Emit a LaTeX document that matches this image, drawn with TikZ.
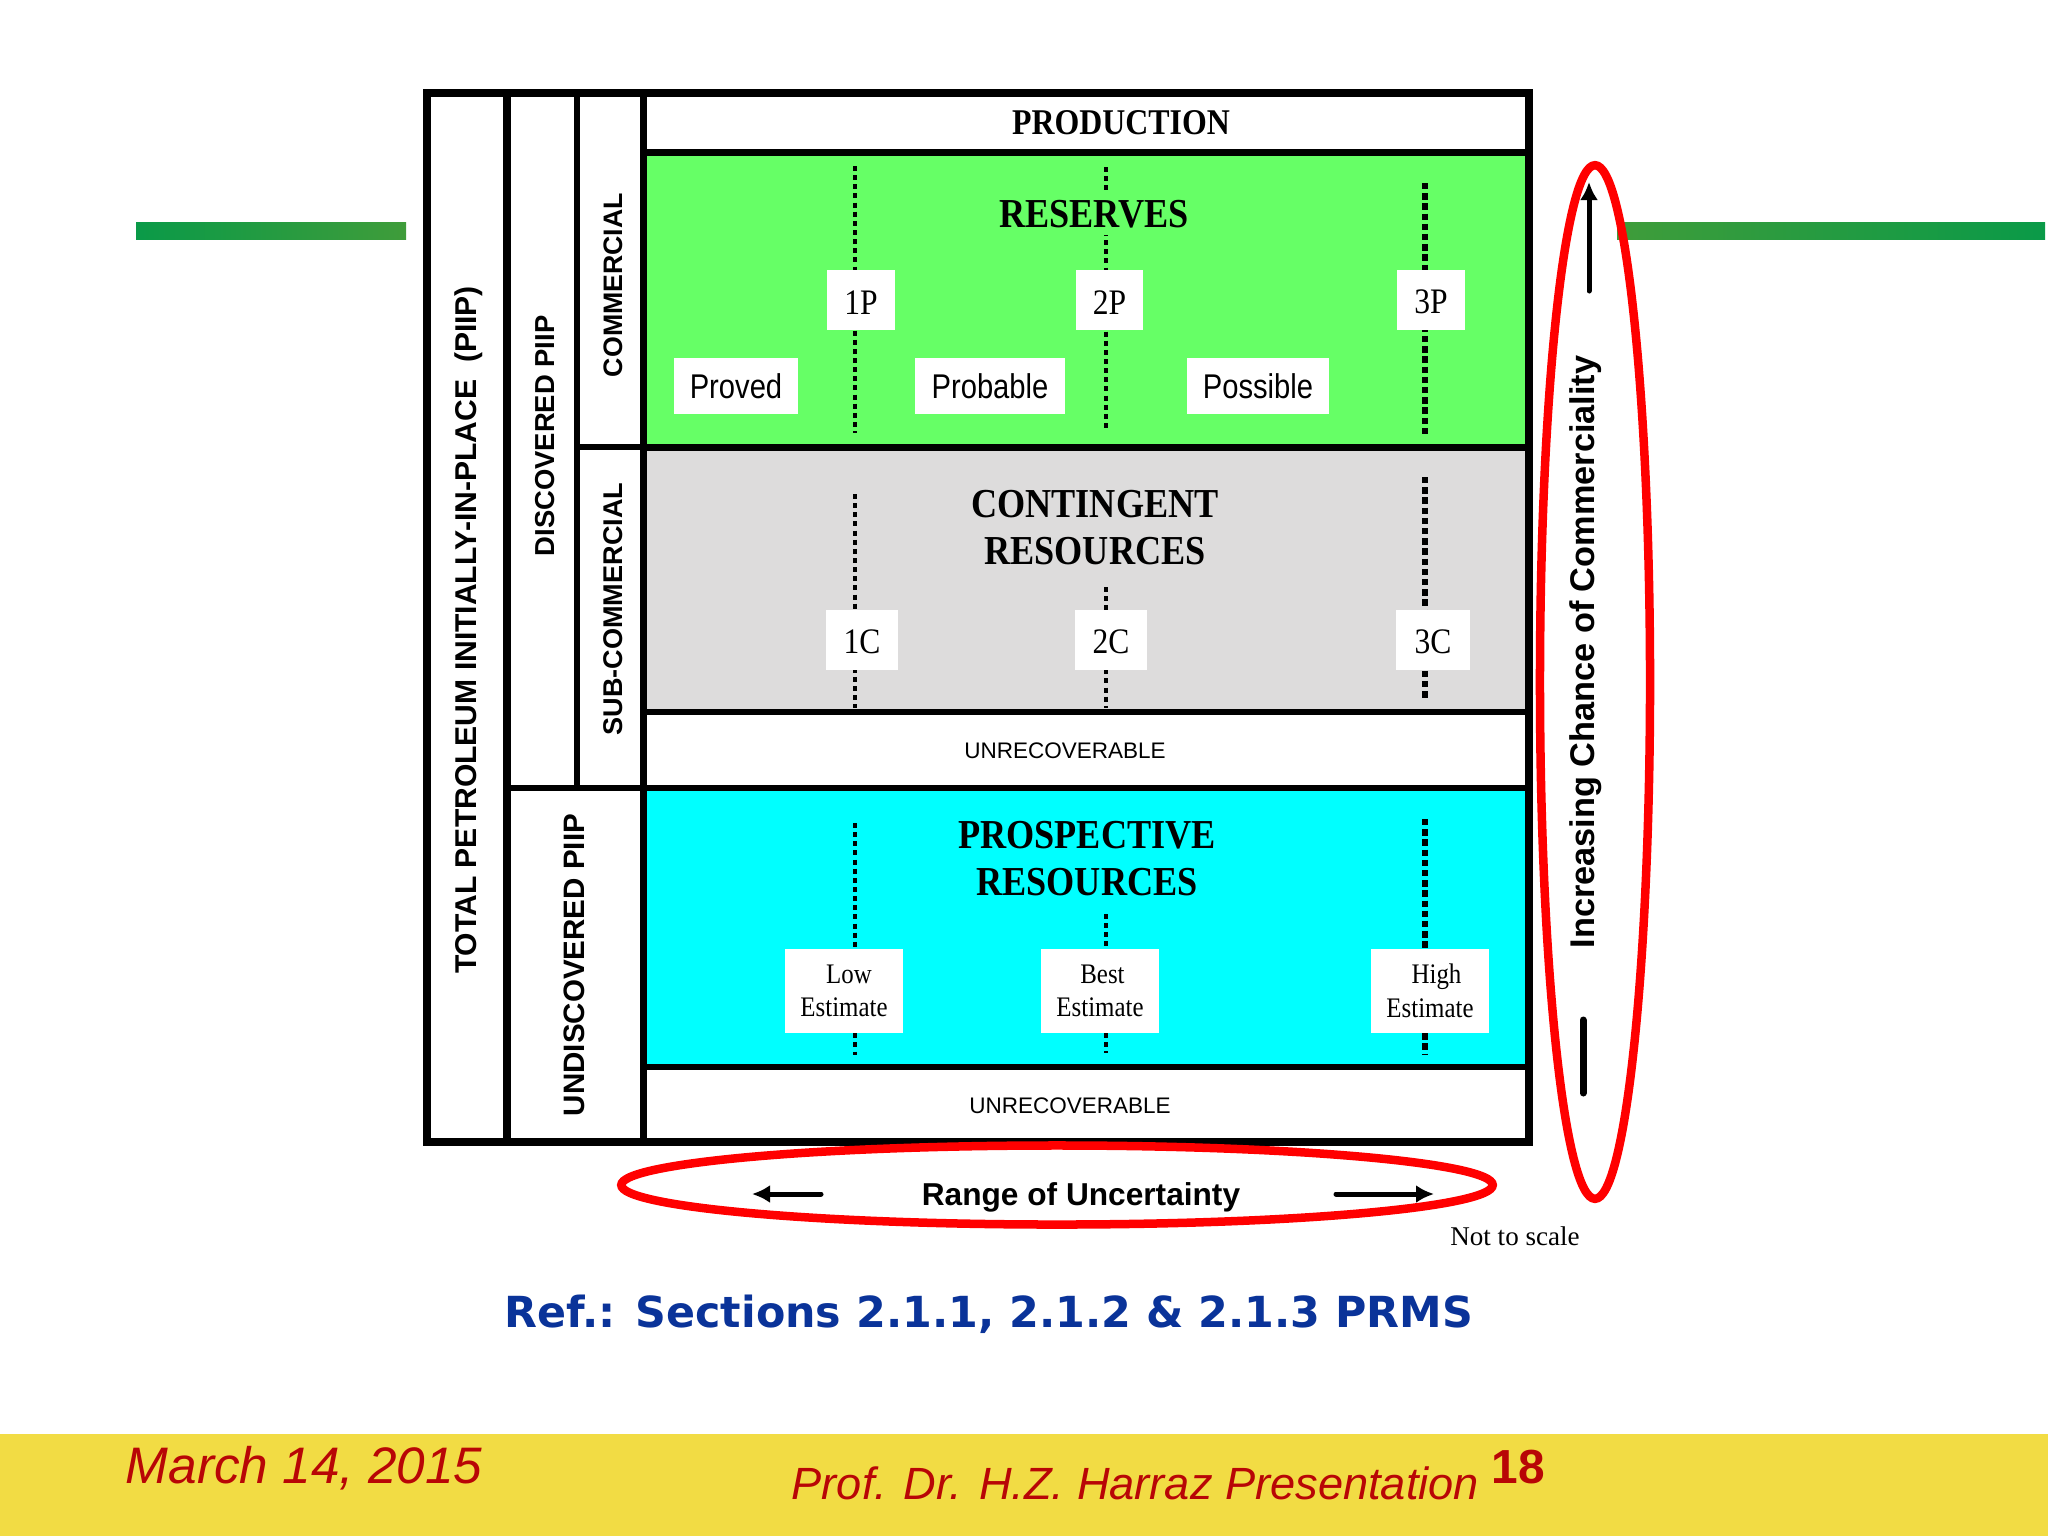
\documentclass[tikz,border=0pt]{standalone}
\usepackage{xcolor}
\usepackage{fontspec}
\usepackage{tikz}
\usetikzlibrary{shapes.geometric,arrows.meta}
\setmainfont{Liberation Serif}
\setsansfont{Liberation Sans}
\definecolor{resgreen}{HTML}{66FF66}
\definecolor{congrey}{HTML}{DDDCDC}
\definecolor{procyan}{HTML}{00FFFF}
\definecolor{footyellow}{HTML}{F2DC44}
\definecolor{footred}{HTML}{B80606}
\definecolor{refblue}{HTML}{0A3399}
\definecolor{barleft}{HTML}{0A9A48}
\definecolor{barright}{HTML}{3F9C3A}
\newfontfamily\reffont{DejaVu Sans}
\newfontfamily\tallserif[FakeStretch=0.88]{Liberation Serif}
\newfontfamily\tallsans[FakeStretch=0.85]{Liberation Sans}
\tikzset{
  cell/.style={draw=black, line width=0.65mm, inner sep=0pt},
  colcell/.style={draw=black, line width=0.55mm, inner sep=0pt},
  outercell/.style={draw=black, line width=0.8mm, inner sep=0pt},
  sidelabel/.style={font=\sffamily\bfseries\fontsize{8.55}{10}\selectfont, rotate=90, inner sep=0pt},
  bigname/.style={font=\tallserif\bfseries\fontsize{11.7}{13.4}\selectfont, align=center, inner sep=2pt},
  tag/.style={fill=white, inner sep=0pt, text height=8pt, font=\tallserif\fontsize{10.2}{10}\selectfont},
  sanstag/.style={fill=white, inner sep=0pt, font=\tallsans\fontsize{9.76}{10}\selectfont},
  esttag/.style={fill=white, inner sep=0pt, align=center, font=\tallserif\fontsize{8.05}{9.5}\selectfont, minimum width=1.18cm, minimum height=.83cm},
  unrec/.style={font=\sffamily\fontsize{6.4}{8}\selectfont, inner sep=0pt},
  dots/.style={line width=1.4pt, dash pattern=on 1.4pt off 1.2pt},
  fatdots/.style={line width=1.7pt, dash pattern=on 1.8pt off 1.1pt},
  redring/.style={draw=red, line width=0.85mm, ellipse, inner sep=0pt},
  uparrow/.style={line width=0.5mm, line cap=round, -{Latex[length=1.8mm,width=1.8mm]}},
  foot/.style={font=\sffamily\itshape, text=footred, anchor=base west, inner sep=0pt}
}
\begin{document}
\begin{tikzpicture}[x=0.01cm, y=-0.01cm]
  \useasboundingbox (0,0) rectangle (2048,1536);

  % Green bars
  \fill[left color=barleft, right color=barright] (136,222) rectangle (406,239);
  \fill[left color=barright, right color=barleft] (1617,222) rectangle (2045,239);

  % Footer
  \fill[footyellow] (0,1434) rectangle (2048,1536);

  % Coloured cells
  \node[cell, fill=white, minimum width=8.85cm, minimum height=.60cm] (production) at (1086.5,123) {};
  \node[cell, fill=resgreen, minimum width=8.85cm, minimum height=2.95cm] (reservesbox) at (1086.5,300) {};
  \node[cell, fill=congrey, minimum width=8.85cm, minimum height=2.645cm] (contingentbox) at (1086.5,580) {};
  \node[cell, fill=white, minimum width=8.85cm, minimum height=.76cm] (unrecA) at (1086.5,750) {};
  \node[cell, fill=procyan, minimum width=8.85cm, minimum height=2.79cm] (prospectivebox) at (1086.5,927.5) {};
  \node[cell, fill=white, minimum width=8.85cm, minimum height=.75cm] (unrecB) at (1086.5,1104.5) {};

  % Left columns
  \node[colcell, minimum width=.695cm, minimum height=6.95cm] (discol) at (542,440.5) {};
  \node[colcell, minimum width=.67cm, minimum height=3.545cm] (comcol) at (610.5,270) {};
  \node[colcell, minimum width=.67cm, minimum height=3.405cm] (subcol) at (610.5,617.5) {};
  \node[colcell, minimum width=1.365cm, minimum height=3.54cm] (undiscol) at (575.5,965) {};
  \node[outercell, minimum width=.805cm, minimum height=10.49cm] (totalcol) at (467,617.5) {};
  \node[outercell, minimum width=11.02cm, minimum height=10.49cm] (frame) at (978,617.5) {};

  \node[sidelabel] (totallabel) at (469,630) {TOTAL PETROLEUM INITIALLY-IN-PLACE\ \ (PIIP)};
  \node[sidelabel, font=\sffamily\bfseries\fontsize{7.8}{10}\selectfont] (dislabel) at (545,436) {DISCOVERED PIIP};
  \node[sidelabel, font=\sffamily\bfseries\fontsize{7.6}{10}\selectfont] (comlabel) at (613,285) {COMMERCIAL};
  \node[sidelabel, font=\sffamily\bfseries\fontsize{7.7}{10}\selectfont] (sublabel) at (613,609) {SUB-COMMERCIAL};
  \node[sidelabel, font=\sffamily\bfseries\fontsize{8.4}{10}\selectfont] (undislabel) at (574,965) {UNDISCOVERED PIIP};

  % Dotted lines, reserves
  \coordinate (ptopA) at (855,166);
  \coordinate (pbotA) at (855,433);
  \coordinate (ptopB) at (1106,167);
  \coordinate (pbotB) at (1106,431);
  \coordinate (ptopC) at (1425,183);
  \coordinate (pbotC) at (1425,434);
  \draw[dots] (ptopA) -- (pbotA);
  \draw[dots] (ptopB) -- (pbotB);
  \draw[fatdots] (ptopC) -- (pbotC);

  % Dotted lines, contingent
  \coordinate (ctopA) at (855,494);
  \coordinate (cbotA) at (855,708);
  \coordinate (ctopB) at (1106,587);
  \coordinate (cbotB) at (1106,708);
  \coordinate (ctopC) at (1425,477);
  \coordinate (cbotC) at (1425,699);
  \draw[dots] (ctopA) -- (cbotA);
  \draw[dots] (ctopB) -- (cbotB);
  \draw[fatdots] (ctopC) -- (cbotC);

  % Dotted lines, prospective
  \coordinate (ltopA) at (855,823);
  \coordinate (lbotA) at (855,1055);
  \coordinate (ltopB) at (1106,914);
  \coordinate (lbotB) at (1106,1053);
  \coordinate (ltopC) at (1425,819);
  \coordinate (lbotC) at (1425,1055);
  \draw[dots] (ltopA) -- (lbotA);
  \draw[dots] (ltopB) -- (lbotB);
  \draw[fatdots] (ltopC) -- (lbotC);

  % Cell texts
  \node[inner sep=0pt, font=\tallserif\bfseries\fontsize{10.3}{10}\selectfont] (prodlabel) at (1121,123) {PRODUCTION};
  \node[bigname, fill=resgreen] (reservestext) at (1094,214) {RESERVES};
  \node[bigname] (contingenttext) at (1095,528) {CONTINGENT\\RESOURCES};
  \node[bigname] (prospectivetext) at (1087,859) {PROSPECTIVE\\RESOURCES};
  \node[unrec] (unreclabelA) at (1065,751) {UNRECOVERABLE};
  \node[unrec] (unreclabelB) at (1070,1106) {UNRECOVERABLE};

  % Tags
  \node[tag, minimum width=.68cm, minimum height=.59cm] (tagOneP) at (861,300) {1P};
  \node[tag, minimum width=.67cm, minimum height=.59cm] (tagTwoP) at (1109.5,300) {2P};
  \node[tag, minimum width=.68cm, minimum height=.59cm] (tagThreeP) at (1431,300) {3P};
  \node[sanstag, minimum width=1.24cm, minimum height=.56cm] (proved) at (736,386) {Proved};
  \node[sanstag, minimum width=1.49cm, minimum height=.56cm] (probable) at (990,386) {Probable};
  \node[sanstag, minimum width=1.42cm, minimum height=.56cm] (possible) at (1258,386) {Possible};
  \node[tag, minimum width=.71cm, minimum height=.60cm] (tagOneC) at (862,640) {1C};
  \node[tag, minimum width=.72cm, minimum height=.60cm] (tagTwoC) at (1111,640) {2C};
  \node[tag, minimum width=.73cm, minimum height=.60cm] (tagThreeC) at (1433,640) {3C};
  \node[esttag] (lowest) at (844,991) {\hspace*{.1cm}Low\\Estimate};
  \node[esttag] (bestest) at (1100,991) {\hspace*{.05cm}Best\\Estimate};
  \node[esttag] (highest) at (1430,991) {\hspace*{.13cm}High\\Estimate};

  % Range of uncertainty
  \node[redring, minimum width=8.71cm, minimum height=.79cm] (rangering) at (1057,1185) {};
  \node[inner sep=0pt, font=\sffamily\bfseries\fontsize{9}{10}\selectfont] (rangelabel) at (1081,1197.5) {Range of Uncertainty};
  \coordinate (rangeLa) at (821,1194);
  \coordinate (rangeLb) at (752,1194);
  \coordinate (rangeRa) at (1336,1194);
  \coordinate (rangeRb) at (1434,1194);
  \draw[uparrow] (rangeLa) -- (rangeLb);
  \draw[uparrow] (rangeRa) -- (rangeRb);
  \node[inner sep=0pt, font=\fontsize{7.7}{9}\selectfont] (noscale) at (1515,1236) {Not to scale};

  % Chance of commerciality
  \node[redring, minimum width=1.10cm, minimum height=10.33cm] (chancering) at (1595,682) {};
  \node[sidelabel, font=\sffamily\bfseries\fontsize{9.75}{11}\selectfont] (chancelabel) at (1586,652) {Increasing Chance of Commerciality};
  \coordinate (chanceUa) at (1589,291);
  \coordinate (chanceUb) at (1589,182);
  \coordinate (chanceDa) at (1583,1020);
  \coordinate (chanceDb) at (1583,1093);
  \draw[uparrow] (chanceUa) -- (chanceUb);
  \draw[line width=.7mm, line cap=round] (chanceDa) -- (chanceDb);

  % Reference line and footer
  \node[inner sep=0pt, text=refblue, font=\reffont\bfseries\fontsize{12.17}{14}\selectfont] (reftext) at (988.5,1314) {Ref.: Sections 2.1.1, 2.1.2 \& 2.1.3 PRMS};
  \node[foot, font=\sffamily\itshape\fontsize{14.6}{16}\selectfont] (datetext) at (125,1483) {March 14, 2015};
  \node[foot, font=\sffamily\itshape\fontsize{12.85}{15}\selectfont] (proftext) at (791,1499) {Prof. Dr. H.Z. Harraz Presentation};
  \node[foot, font=\sffamily\bfseries\fontsize{13.6}{15}\selectfont] (pagetext) at (1491,1483) {18};
\end{tikzpicture}
\end{document}
